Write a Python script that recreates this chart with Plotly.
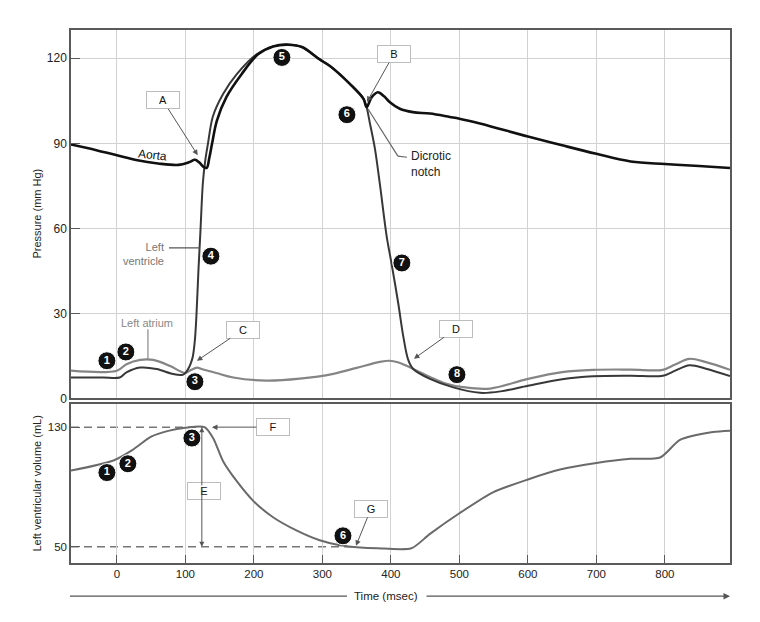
import plotly.graph_objects as go

# ---------------- data ----------------
aorta_t = [-67, -30, 0, 30, 60, 90, 105, 114, 120, 126, 131, 135, 139, 146, 160, 182, 206, 228, 250,
           270, 296, 311, 340, 360, 364.5, 372, 381, 390, 398.5, 413, 432, 457, 486, 500, 530, 600,
           650, 700, 750, 800, 850, 895]
aorta_p = [89.6, 87.6, 85.8, 84.0, 82.9, 82.4, 83.3, 84.2, 83.3, 81.8, 81.3, 85.0, 90.0, 98.0, 106.4,
           114.4, 121.4, 124.2, 124.8, 124.0, 119.6, 117.3, 111.0, 105.7, 102.8, 106.3, 108.0, 106.6,
           104.5, 102.2, 101.0, 100.5, 99.3, 98.7, 97.0, 92.4, 89.3, 86.3, 83.6, 82.7, 82.0, 81.3]

lv_t = [-67, -20, 4, 14, 34, 58, 82, 95, 100, 104, 108, 111, 114, 116, 119, 122, 125.5, 129, 133, 140,
        155, 175, 204, 228, 250, 270, 296, 311, 340, 360, 364.5, 369, 376.6, 384, 394, 401, 410.7, 418,
        425, 432.6, 457, 491, 530, 560, 600, 650, 695, 750, 797, 815, 836, 860, 895]
lv_p = [7.4, 7.4, 7.4, 9.2, 10.9, 10.4, 8.6, 8.3, 9.0, 10.4, 12.5, 15.0, 21.0, 28.7, 45.0, 59.2, 76.0,
        84.0, 90.0, 99.4, 107.4, 114.4, 121.4, 124.2, 124.9, 124.0, 119.6, 117.3, 111.0, 105.7, 102.8,
        97.5, 88.2, 75.4, 56.9, 47.5, 33.6, 22.0, 13.8, 10.4, 6.9, 3.9, 2.0, 2.5, 4.5, 6.8, 7.8, 8.0,
        8.0, 9.8, 11.7, 10.5, 7.9]

la_t = [-67, 0, 14, 34, 53, 77, 94, 100, 108, 117, 125, 145, 170, 218, 267, 316, 350, 384, 398, 410,
        423, 440, 457, 480, 505, 545, 600, 650, 695, 750, 797, 815, 836, 860, 895]
la_p = [9.8, 9.8, 12.1, 13.6, 13.6, 11.5, 9.4, 9.0, 10.0, 10.9, 10.3, 9.0, 7.4, 6.3, 7.0, 8.7, 10.8,
        12.9, 13.3, 12.8, 11.5, 9.5, 7.6, 5.3, 4.0, 3.5, 6.9, 9.3, 10.1, 10.2, 10.1, 12.0, 14.0, 12.8,
        10.1]

vol_t = [-67, -5, 23, 50, 75, 100, 128, 140.6, 155, 174.7, 199, 228, 262, 296, 325.5, 355, 380, 430,
         457, 500, 549, 600, 647, 700, 750, 793, 822, 870, 895]
vol_ml = [100.9, 107.7, 114.8, 123.6, 127.5, 129.6, 130.0, 122.6, 107.2, 94.0, 80.7, 69.7, 60.9, 54.3,
          51.0, 49.5, 49.0, 49.0, 58.6, 72.4, 86.4, 95.0, 101.6, 106.0, 108.8, 109.7, 121.4, 126.7,
          127.6]

x_ticks = [0, 100, 200, 300, 400, 500, 600, 700, 800]
p_ticks = [0, 30, 60, 90, 120]
v_ticks = [50, 130]
edv, esv = 130, 50

FONT = "Liberation Sans, Arial, Helvetica, sans-serif"
W, H = 760, 622


def px(xp):
    return xp / W


def py(yp):
    return (H - yp) / H


fig = go.Figure()

fig.add_trace(go.Scatter(x=la_t, y=la_p, mode="lines", line=dict(color="#858585", width=2.2,
                         shape="spline", smoothing=1.0), xaxis="x", yaxis="y", hoverinfo="skip"))
fig.add_trace(go.Scatter(x=lv_t, y=lv_p, mode="lines", line=dict(color="#383838", width=2,
                         shape="spline", smoothing=0.9), xaxis="x", yaxis="y", hoverinfo="skip"))
fig.add_trace(go.Scatter(x=aorta_t, y=aorta_p, mode="lines", line=dict(color="#111111", width=2.6,
                         shape="spline", smoothing=1.0), xaxis="x", yaxis="y", hoverinfo="skip"))
fig.add_trace(go.Scatter(x=vol_t, y=vol_ml, mode="lines", line=dict(color="#6a6a6a", width=2,
                         shape="spline", smoothing=0.7), xaxis="x2", yaxis="y2", hoverinfo="skip"))

# numbered markers
top_num = ["1", "2", "3", "4", "5", "6", "7", "8"]
top_nx = [-14.6, 13.1, 113.9, 137.2, 240.9, 335.8, 416, 496.4]
top_ny = [13.3, 16.4, 5.9, 50.2, 120.3, 100.1, 47.8, 8.4]
bot_num = ["1", "2", "3", "6"]
bot_nx = [-14.6, 16, 109.5, 330]
bot_ny = [99.6, 105.5, 122.7, 57.3]
for xs, ys, ts, xa, ya in [(top_nx, top_ny, top_num, "x", "y"), (bot_nx, bot_ny, bot_num, "x2", "y2")]:
    fig.add_trace(go.Scatter(x=xs, y=ys, text=ts, mode="markers+text", xaxis=xa, yaxis=ya,
                             marker=dict(size=18, color="#111111", line=dict(color="white", width=1)),
                             textposition="middle center",
                             textfont=dict(color="white", size=11, family=FONT, weight="bold"),
                             hoverinfo="skip"))

axis_common = dict(showline=True, mirror=True, linecolor="#5a5a5a", linewidth=1.5, zeroline=False,
                   gridcolor="#d2d2d2", gridwidth=1, tickfont=dict(family=FONT, size=11.5, color="#222"))

x_dom = [px(71), px(730)]
fig.update_layout(
    width=W, height=H, margin=dict(l=0, r=0, t=0, b=0), paper_bgcolor="white", plot_bgcolor="white",
    showlegend=False, font=dict(family=FONT, color="#222"),
    xaxis=dict(domain=x_dom, anchor="y", range=[-67, 895], tickvals=x_ticks, showticklabels=False,
               showgrid=True, ticks="", **axis_common),
    yaxis=dict(domain=[py(403), py(30)], anchor="x", range=[0, 130.1], tickvals=p_ticks,
               showgrid=True, ticks="inside", ticklen=9, tickcolor="#5a5a5a", **axis_common),
    xaxis2=dict(domain=x_dom, anchor="y2", range=[-67, 895], tickvals=x_ticks, showgrid=True,
                ticks="inside", ticklen=8, tickcolor="#5a5a5a", **axis_common),
    yaxis2=dict(domain=[py(569), py(409)], anchor="x2", range=[39.4, 145.2], tickvals=v_ticks,
                showgrid=False, ticks="inside", ticklen=9, tickcolor="#5a5a5a", **axis_common),
)
fig.update_layout(yaxis_tickfont_size=12)

shapes = []
# dashed reference volumes
shapes.append(dict(type="line", xref="x2", yref="y2", x0=-67, x1=125, y0=edv, y1=edv,
                   line=dict(color="#777", width=1.5, dash="8px,5px"), layer="below"))
shapes.append(dict(type="line", xref="x2", yref="y2", x0=-67, x1=345, y0=esv, y1=esv,
                   line=dict(color="#777", width=1.5, dash="8px,5px"), layer="below"))
# label leader lines
shapes.append(dict(type="line", xref="x", yref="y", x0=76, x1=121, y0=53.1, y1=53.1,
                   line=dict(color="#555", width=1.2)))
shapes.append(dict(type="line", xref="x", yref="y", x0=45.3, x1=45.3, y0=24.4, y1=13.6,
                   line=dict(color="#888", width=1.2)))
shapes.append(dict(type="line", xref="x", yref="y", x0=366.4, x1=410.2, y0=102.2, y1=85.5,
                   line=dict(color="#666", width=1.2)))
shapes.append(dict(type="line", xref="x", yref="y", x0=410.2, x1=423.4, y0=85.5, y1=85.1,
                   line=dict(color="#666", width=1.2)))
# time arrow (left part)
shapes.append(dict(type="line", xref="paper", yref="paper", x0=px(70), x1=px(347), y0=py(603),
                   y1=py(603), line=dict(color="#555", width=1.3)))
fig.update_layout(shapes=shapes)

ann = []
box = dict(bgcolor="white", bordercolor="#bdbdbd", borderwidth=1, borderpad=2, width=28, height=12,
           font=dict(family=FONT, size=11, color="#111"), arrowcolor="#555", arrowwidth=1,
           arrowhead=2, arrowsize=1.1, showarrow=True)
for lab, x, y, ax, ay, xr, yr in [("A", 118, 85.8, -35, -55, "x", "y"),
                                  ("B", 365, 104.6, 27, -48, "x", "y"),
                                  ("C", 116.8, 13.3, 46, -31, "x", "y"),
                                  ("D", 433.6, 14.0, 42, -30, "x", "y"),
                                  ("F", 138.7, 130, 61, 0, "x2", "y2"),
                                  ("G", 349, 50.6, 15, -37, "x2", "y2")]:
    ann.append(dict(text=lab, x=x, y=y, ax=ax, ay=ay, xref=xr, yref=yr, **box))
ann.append(dict(text="E", x=127, y=87, xref="x2", yref="y2", showarrow=False, bgcolor="white",
                bordercolor="#bdbdbd", borderwidth=1, borderpad=2, width=28, height=12,
                font=dict(family=FONT, size=11, color="#111")))
# E double arrow
for head in (edv, esv):
    ann.append(dict(text="", x=124, y=head, ax=124, ay=90, xref="x2", yref="y2", axref="x2",
                    ayref="y2", showarrow=True, arrowhead=2, arrowsize=1, arrowwidth=1,
                    arrowcolor="#555"))
# text labels
ann.append(dict(text="Aorta", x=52.5, y=85.8, xref="x", yref="y", showarrow=False, textangle=6,
                xanchor="center", yanchor="middle", font=dict(family=FONT, size=12, color="#111")))
ann.append(dict(text="Left<br>ventricle", x=72, y=51, xref="x", yref="y", showarrow=False,
                xanchor="right", yanchor="middle", align="right",
                font=dict(family=FONT, size=11, color="#777")))
ann.append(dict(text="Left atrium", x=43.8, y=26.5, xref="x", yref="y", showarrow=False,
                xanchor="center", yanchor="middle", font=dict(family=FONT, size=11, color="#888")))
ann.append(dict(text="Dicrotic<br>notch", x=426, y=82.7, xref="x", yref="y", showarrow=False,
                xanchor="left", yanchor="middle", align="left",
                font=dict(family=FONT, size=12, color="#222")))
# axis titles
ann.append(dict(text="Pressure (mm Hg)", x=px(37), y=py(216), xref="paper", yref="paper",
                xanchor="center", yanchor="middle", showarrow=False, textangle=-90,
                font=dict(family=FONT, size=11, color="#222")))
ann.append(dict(text="Left ventricular volume (mL)", x=px(37), y=py(489), xref="paper", yref="paper",
                xanchor="center", yanchor="middle", showarrow=False, textangle=-90,
                font=dict(family=FONT, size=11, color="#222")))
# time axis
ann.append(dict(text="Time (msec)", x=px(386), y=py(603), xref="paper", yref="paper", showarrow=False,
                xanchor="center", yanchor="middle", font=dict(family=FONT, size=11.5, color="#222")))
ann.append(dict(text="", x=px(730), y=py(603), xref="paper", yref="paper", ax=-305, ay=0,
                showarrow=True, arrowhead=2, arrowsize=1, arrowwidth=1.3, arrowcolor="#555"))
fig.update_layout(annotations=ann)

fig.write_html("out.html")
